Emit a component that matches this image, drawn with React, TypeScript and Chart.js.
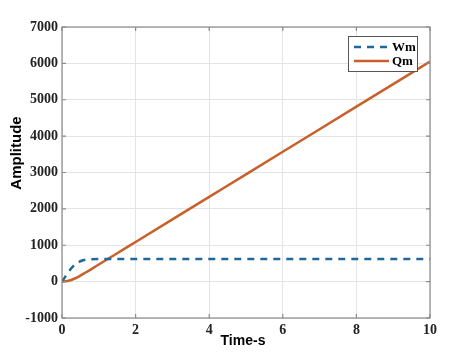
import React, { useEffect, useRef } from "react";
import { Chart, registerables } from "chart.js";

Chart.register(...registerables);

const time = [0, 0.1, 0.2, 0.3, 0.4, 0.5, 0.6, 0.8, 1.0, 1.5, 2, 3, 4, 5, 6, 7, 8, 9, 10];
const wm = [0, 150, 300, 420, 500, 560, 595, 615, 620, 620, 620, 620, 620, 620, 620, 620, 620, 620, 620];
const qm = [0, 8, 30, 65, 110, 165, 225, 345, 470, 780, 1090, 1710, 2330, 2950, 3570, 4190, 4810, 5430, 6050];
const seriesNames = ["Wm", "Qm"];
const xTitle = "Time-s";
const yTitle = "Amplitude";

const blue = "#22679a";
const orange = "#c9602b";

const decorPlugin = {
  id: "decor",
  afterDraw(chart: any) {
    const ctx = chart.ctx;
    const a = chart.chartArea;
    ctx.save();
    // box
    ctx.strokeStyle = "#8a8a8a";
    ctx.lineWidth = 1.2;
    ctx.strokeRect(a.left, a.top, a.right - a.left, a.bottom - a.top);
    // inner ticks
    const xs = chart.scales.x;
    const ys = chart.scales.y;
    ctx.beginPath();
    xs.ticks.forEach((t: any) => {
      const px = xs.getPixelForValue(t.value);
      ctx.moveTo(px, a.bottom);
      ctx.lineTo(px, a.bottom - 4);
      ctx.moveTo(px, a.top);
      ctx.lineTo(px, a.top + 4);
    });
    ys.ticks.forEach((t: any) => {
      const py = ys.getPixelForValue(t.value);
      ctx.moveTo(a.left, py);
      ctx.lineTo(a.left + 4, py);
      ctx.moveTo(a.right, py);
      ctx.lineTo(a.right - 4, py);
    });
    ctx.stroke();
    // axis titles
    ctx.fillStyle = "#000";
    ctx.font = "bold 14px 'Liberation Sans', Arial, sans-serif";
    ctx.textAlign = "center";
    ctx.textBaseline = "middle";
    ctx.fillText(xTitle, 243, 341);
    ctx.save();
    ctx.translate(17, 153);
    ctx.rotate(-Math.PI / 2);
    ctx.font = "bold 15px 'Liberation Sans', Arial, sans-serif";
    ctx.fillText(yTitle, 0, 0);
    ctx.restore();
    // legend
    const lx = 348, ly = 36, lw = 69, lh = 35;
    ctx.fillStyle = "#fff";
    ctx.fillRect(lx, ly, lw, lh);
    ctx.strokeStyle = "#555";
    ctx.lineWidth = 1;
    ctx.strokeRect(lx + 0.5, ly + 0.5, lw, lh);
    ctx.lineWidth = 2.5;
    ctx.strokeStyle = blue;
    ctx.setLineDash([7, 6]);
    ctx.beginPath();
    ctx.moveTo(354, 47);
    ctx.lineTo(389, 47);
    ctx.stroke();
    ctx.setLineDash([]);
    ctx.strokeStyle = orange;
    ctx.beginPath();
    ctx.moveTo(354, 61);
    ctx.lineTo(389, 61);
    ctx.stroke();
    ctx.fillStyle = "#000";
    ctx.font = "bold 13px 'Liberation Serif', 'Times New Roman', serif";
    ctx.textAlign = "left";
    ctx.fillText(seriesNames[0], 392, 48);
    ctx.fillText(seriesNames[1], 392, 62);
    ctx.restore();
  },
};

export default function App() {
  const ref = useRef<HTMLCanvasElement>(null);
  useEffect(() => {
    if (!ref.current) return;
    const tickFont = { family: "'Liberation Serif', 'Times New Roman', serif", size: 14, weight: "bold" as const };
    const chart = new Chart(ref.current, {
      type: "line",
      data: {
        datasets: [
          {
            label: seriesNames[0],
            data: time.map((t, i) => ({ x: t, y: wm[i] })),
            borderColor: blue,
            borderWidth: 2.5,
            borderDash: [7, 6],
            pointRadius: 0,
            cubicInterpolationMode: "monotone",
          },
          {
            label: seriesNames[1],
            data: time.map((t, i) => ({ x: t, y: qm[i] })),
            borderColor: orange,
            borderWidth: 2.5,
            pointRadius: 0,
            cubicInterpolationMode: "monotone",
          },
        ],
      },
      options: {
        responsive: false,
        animation: false,
        layout: { padding: { top: 27, right: 44, left: 0, bottom: 0 } },
        plugins: { legend: { display: false }, tooltip: { enabled: false } },
        scales: {
          x: {
            type: "linear",
            min: 0,
            max: 10,
            ticks: { stepSize: 2, color: "#222", font: tickFont, padding: 4, maxRotation: 0, callback: (v: any) => String(v) },
            grid: { color: "#e4e4e4", drawTicks: false },
            border: { display: false },
            afterFit: (s: any) => { s.height = 37; },
          },
          y: {
            min: -1000,
            max: 7000,
            ticks: { stepSize: 1000, color: "#222", font: tickFont, padding: 4, callback: (v: any) => String(v) },
            grid: { color: "#e4e4e4", drawTicks: false },
            border: { display: false },
            afterFit: (s: any) => { s.width = 62; },
          },
        },
      },
      plugins: [decorPlugin],
    });
    return () => chart.destroy();
  }, []);
  return (
    <div style={{ position: "absolute", left: 0, top: 0, width: 474, height: 355, background: "#fff" }}>
      <canvas ref={ref} width={474} height={355} />
    </div>
  );
}
